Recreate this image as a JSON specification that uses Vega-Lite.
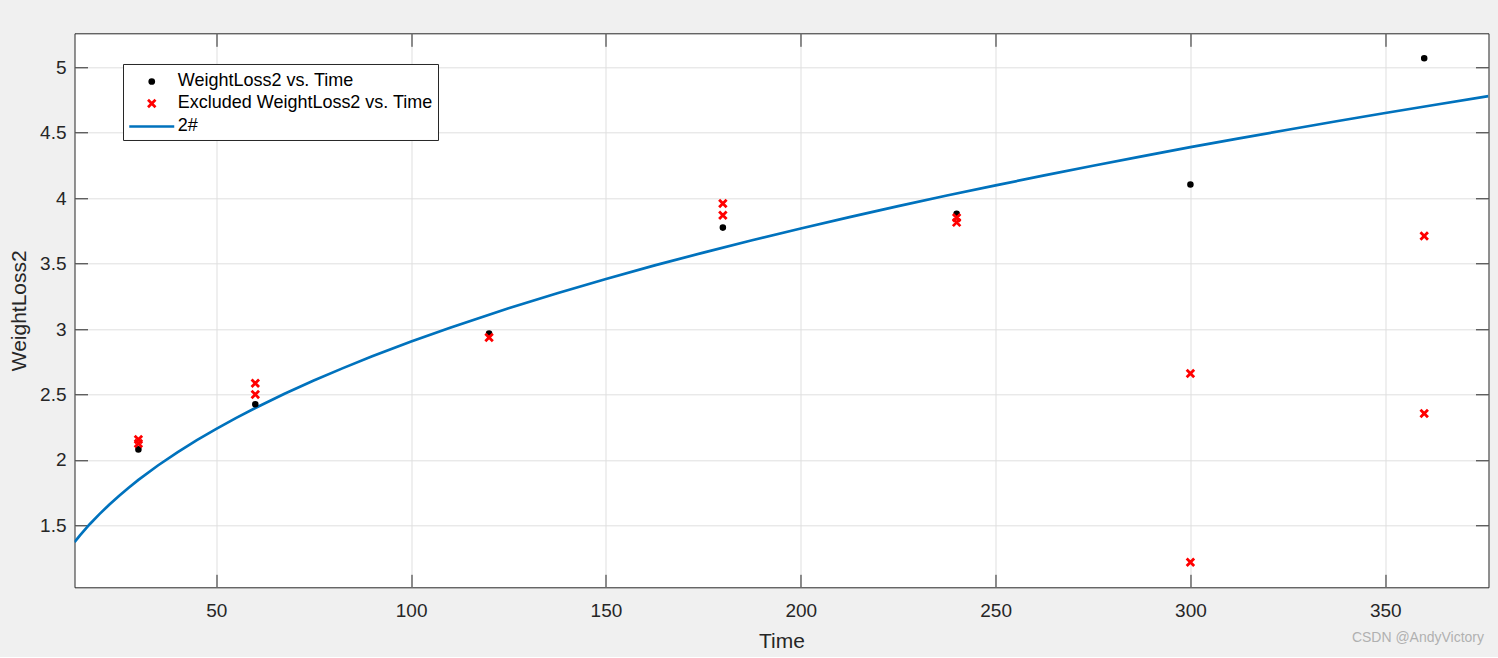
{
  "$schema": "https://vega.github.io/schema/vega-lite/v6.json",
  "width": 1414,
  "height": 554,
  "autosize": {"type": "none"},
  "padding": {"left": 74.5, "top": 33.3, "right": 10, "bottom": 70},
  "background": "#f0f0f0",
  "title": {"text": "CSDN @AndyVictory", "orient": "bottom", "anchor": "end", "fontSize": 14, "fontWeight": "normal", "color": "#b0b0b0", "offset": -20, "dx": -5},
  "config": {
    "font": "Liberation Sans",
    "view": {"fill": "white", "stroke": "#262626", "strokeWidth": 1},
    "axis": {"domain": false, "labelColor": "#262626", "titleColor": "#262626", "labelFontSize": 19, "titleFontSize": 21, "titleFontWeight": "normal", "gridColor": "#dfdfdf", "gridWidth": 1, "tickColor": "#262626", "tickWidth": 1},
    "legend": {"orient": "none", "legendX": 48.5, "legendY": 30.7, "padding": 4.5, "strokeColor": "#262626", "fillColor": "white", "labelFontSize": 18, "labelColor": "#000000", "symbolSize": 506, "symbolStrokeWidth": 2.7, "symbolOffset": 11.25, "labelOffset": 13, "rowPadding": 0, "cornerRadius": 0, "labelLimit": 500}
  },
  "datasets": {
    "pts": [
      {"Time": 30, "WeightLoss2": 2.08, "series": "WeightLoss2 vs. Time"},
      {"Time": 60, "WeightLoss2": 2.425, "series": "WeightLoss2 vs. Time"},
      {"Time": 120, "WeightLoss2": 2.965, "series": "WeightLoss2 vs. Time"},
      {"Time": 180, "WeightLoss2": 3.775, "series": "WeightLoss2 vs. Time"},
      {"Time": 240, "WeightLoss2": 3.88, "series": "WeightLoss2 vs. Time"},
      {"Time": 300, "WeightLoss2": 4.105, "series": "WeightLoss2 vs. Time"},
      {"Time": 360, "WeightLoss2": 5.07, "series": "WeightLoss2 vs. Time"},
      {"Time": 30, "WeightLoss2": 2.155, "series": "Excluded WeightLoss2 vs. Time"},
      {"Time": 30, "WeightLoss2": 2.125, "series": "Excluded WeightLoss2 vs. Time"},
      {"Time": 60, "WeightLoss2": 2.585, "series": "Excluded WeightLoss2 vs. Time"},
      {"Time": 60, "WeightLoss2": 2.5, "series": "Excluded WeightLoss2 vs. Time"},
      {"Time": 120, "WeightLoss2": 2.935, "series": "Excluded WeightLoss2 vs. Time"},
      {"Time": 180, "WeightLoss2": 3.96, "series": "Excluded WeightLoss2 vs. Time"},
      {"Time": 180, "WeightLoss2": 3.87, "series": "Excluded WeightLoss2 vs. Time"},
      {"Time": 240, "WeightLoss2": 3.85, "series": "Excluded WeightLoss2 vs. Time"},
      {"Time": 240, "WeightLoss2": 3.815, "series": "Excluded WeightLoss2 vs. Time"},
      {"Time": 300, "WeightLoss2": 2.66, "series": "Excluded WeightLoss2 vs. Time"},
      {"Time": 300, "WeightLoss2": 1.217, "series": "Excluded WeightLoss2 vs. Time"},
      {"Time": 360, "WeightLoss2": 3.71, "series": "Excluded WeightLoss2 vs. Time"},
      {"Time": 360, "WeightLoss2": 2.355, "series": "Excluded WeightLoss2 vs. Time"}
    ],
    "fit": [
      {"Time": 13.6, "WeightLoss2": 1.371, "series": "2#"},
      {"Time": 15, "WeightLoss2": 1.423, "series": "2#"},
      {"Time": 17.5, "WeightLoss2": 1.508, "series": "2#"},
      {"Time": 20, "WeightLoss2": 1.585, "series": "2#"},
      {"Time": 22.5, "WeightLoss2": 1.657, "series": "2#"},
      {"Time": 25, "WeightLoss2": 1.724, "series": "2#"},
      {"Time": 27.5, "WeightLoss2": 1.787, "series": "2#"},
      {"Time": 30, "WeightLoss2": 1.847, "series": "2#"},
      {"Time": 35, "WeightLoss2": 1.957, "series": "2#"},
      {"Time": 40, "WeightLoss2": 2.058, "series": "2#"},
      {"Time": 45, "WeightLoss2": 2.151, "series": "2#"},
      {"Time": 50, "WeightLoss2": 2.237, "series": "2#"},
      {"Time": 55, "WeightLoss2": 2.319, "series": "2#"},
      {"Time": 60, "WeightLoss2": 2.396, "series": "2#"},
      {"Time": 67.5, "WeightLoss2": 2.505, "series": "2#"},
      {"Time": 75, "WeightLoss2": 2.606, "series": "2#"},
      {"Time": 82.5, "WeightLoss2": 2.701, "series": "2#"},
      {"Time": 90, "WeightLoss2": 2.791, "series": "2#"},
      {"Time": 100, "WeightLoss2": 2.904, "series": "2#"},
      {"Time": 110, "WeightLoss2": 3.01, "series": "2#"},
      {"Time": 125, "WeightLoss2": 3.158, "series": "2#"},
      {"Time": 137.5, "WeightLoss2": 3.273, "series": "2#"},
      {"Time": 150, "WeightLoss2": 3.382, "series": "2#"},
      {"Time": 162.5, "WeightLoss2": 3.486, "series": "2#"},
      {"Time": 175, "WeightLoss2": 3.584, "series": "2#"},
      {"Time": 187.5, "WeightLoss2": 3.678, "series": "2#"},
      {"Time": 200, "WeightLoss2": 3.768, "series": "2#"},
      {"Time": 212.5, "WeightLoss2": 3.855, "series": "2#"},
      {"Time": 225, "WeightLoss2": 3.939, "series": "2#"},
      {"Time": 237.5, "WeightLoss2": 4.02, "series": "2#"},
      {"Time": 250, "WeightLoss2": 4.098, "series": "2#"},
      {"Time": 262.5, "WeightLoss2": 4.174, "series": "2#"},
      {"Time": 275, "WeightLoss2": 4.248, "series": "2#"},
      {"Time": 287.5, "WeightLoss2": 4.319, "series": "2#"},
      {"Time": 300, "WeightLoss2": 4.39, "series": "2#"},
      {"Time": 312.5, "WeightLoss2": 4.457, "series": "2#"},
      {"Time": 325, "WeightLoss2": 4.523, "series": "2#"},
      {"Time": 337.5, "WeightLoss2": 4.588, "series": "2#"},
      {"Time": 350, "WeightLoss2": 4.651, "series": "2#"},
      {"Time": 362.5, "WeightLoss2": 4.712, "series": "2#"},
      {"Time": 376.5, "WeightLoss2": 4.78, "series": "2#"}
    ]
  },
  "layer": [
    {
      "data": {"name": "fit"},
      "mark": {"type": "line", "strokeWidth": 2.7, "clip": true},
      "encoding": {
        "x": {"field": "Time", "type": "quantitative", "scale": {"domain": [13.6, 376.5], "nice": false, "zero": false},
              "axis": {"orient": "bottom", "values": [50, 100, 150, 200, 250, 300, 350], "grid": true, "ticks": false, "labelPadding": 14, "labelFlush": false, "title": "Time", "titleY": 60, "titleBaseline": "alphabetic"}},
        "y": {"field": "WeightLoss2", "type": "quantitative", "scale": {"domain": [1.026, 5.26], "nice": false, "zero": false},
              "axis": {"orient": "left", "values": [1.5, 2, 2.5, 3, 3.5, 4, 4.5, 5], "format": ".1~f", "grid": true, "ticks": false, "labelPadding": 8.5, "labelFlush": false, "title": "WeightLoss2", "titleX": -55.5, "titleBaseline": "middle"}},
        "stroke": {"field": "series", "type": "nominal",
                   "scale": {"domain": ["WeightLoss2 vs. Time", "Excluded WeightLoss2 vs. Time", "2#"], "range": ["#000000", "#ff0000", "#0072BD"]},
                   "legend": {"title": null}}
      }
    },
    {
      "data": {"name": "pts"},
      "transform": [{"filter": "datum.series === 'WeightLoss2 vs. Time'"}],
      "mark": {"type": "point", "filled": true, "size": 506, "strokeWidth": 2.5, "opacity": 1, "clip": true},
      "encoding": {
        "x": {"field": "Time", "type": "quantitative", "scale": {"domain": [13.6, 376.5], "nice": false, "zero": false},
              "axis": {"orient": "bottom", "values": [50, 100, 150, 200, 250, 300, 350], "grid": false, "labels": false, "ticks": true, "tickSize": -13, "title": null}},
        "y": {"field": "WeightLoss2", "type": "quantitative", "scale": {"domain": [1.026, 5.26], "nice": false, "zero": false},
              "axis": {"orient": "left", "values": [1.5, 2, 2.5, 3, 3.5, 4, 4.5, 5], "grid": false, "labels": false, "ticks": true, "tickSize": -13, "title": null}},
        "shape": {"field": "series", "type": "nominal",
                  "scale": {"domain": ["WeightLoss2 vs. Time", "Excluded WeightLoss2 vs. Time", "2#"], "range": ["M-0.18,0A0.18,0.18 0 1,0 0.18,0A0.18,0.18 0 1,0 -0.18,0Z", "M-0.333,-0.333L0.333,0.333M0.333,-0.333L-0.333,0.333", "M-2,0L2,0"]},
                  "legend": {"title": null}},
        "fill": {"field": "series", "type": "nominal",
                 "scale": {"domain": ["WeightLoss2 vs. Time", "Excluded WeightLoss2 vs. Time", "2#"], "range": ["#000000", "#ff0000", "#0072BD"]},
                 "legend": {"title": null}},
        "stroke": {"field": "series", "type": "nominal", "legend": {"title": null}}
      }
    },
    {
      "data": {"name": "pts"},
      "transform": [{"filter": "datum.series === 'Excluded WeightLoss2 vs. Time'"}],
      "mark": {"type": "point", "filled": true, "size": 506, "strokeWidth": 2.8, "opacity": 1, "clip": true},
      "encoding": {
        "x": {"field": "Time", "type": "quantitative", "scale": {"domain": [13.6, 376.5], "nice": false, "zero": false},
              "axis": {"orient": "top", "values": [50, 100, 150, 200, 250, 300, 350], "grid": false, "labels": false, "ticks": true, "tickSize": -13, "title": null}},
        "y": {"field": "WeightLoss2", "type": "quantitative", "scale": {"domain": [1.026, 5.26], "nice": false, "zero": false},
              "axis": {"orient": "right", "values": [1.5, 2, 2.5, 3, 3.5, 4, 4.5, 5], "grid": false, "labels": false, "ticks": true, "tickSize": -13, "title": null}},
        "shape": {"field": "series", "type": "nominal", "legend": {"title": null}},
        "fill": {"field": "series", "type": "nominal", "legend": {"title": null}},
        "stroke": {"field": "series", "type": "nominal", "legend": {"title": null}}
      }
    }
  ],
  "resolve": {"axis": {"x": "independent", "y": "independent"}}
}
